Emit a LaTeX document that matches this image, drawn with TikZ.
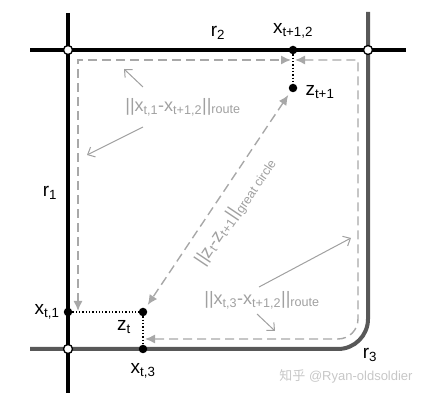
\documentclass[tikz,border=0pt]{standalone}
\usepackage{fontspec}
\setmainfont{Liberation Sans}
\newfontfamily\cjk{Noto Sans CJK SC}
\usetikzlibrary{arrows.meta}
\definecolor{roadgray}{HTML}{585858}
\definecolor{routegray}{HTML}{A8A8A8}
\definecolor{notegray}{HTML}{A0A0A0}
\tikzset{
  pt/.style={circle,fill=black,inner sep=0pt,minimum size=8.5pt},
  cross/.style={circle,draw=black,fill=white,line width=1.3pt,inner sep=0pt,minimum size=9pt},
  lbl/.style={font=\fontsize{19}{21}\selectfont},
  note/.style={font=\fontsize{18}{20}\selectfont,text=notegray},
  route/.style={routegray,line width=1.4pt,dash pattern=on 9pt off 5pt,{Latex[length=10pt,width=9pt]}-{Latex[length=10pt,width=9pt]}},
  pointer/.style={notegray,line width=1pt,-{Straight Barb[length=6pt,width=11pt]}}
}
\begin{document}
\begin{tikzpicture}[x=1pt,y=1pt]
\useasboundingbox (0,0) rectangle (423,406);

\draw [line width=4pt,roadgray] (368,394) -- (368,87) arc[start angle=0,end angle=-90,radius=30] -- (30,57);
\draw [line width=4pt] (68,393) -- (68,13);
\draw [line width=4pt] (30,356) -- (406,356);

\node [cross] (c1) at (68,356) {};
\node [cross] (c2) at (368,356) {};
\node [cross] (c3) at (68,57) {};

\node [pt] (xt12) at (293,356) {};
\node [pt] (zt1) at (293,318) {};
\node [pt] (xt1) at (68,94) {};
\node [pt] (zt) at (143,94) {};
\node [pt] (xt3) at (143,57) {};

\draw [dotted,line width=1.3pt] (xt12) -- (zt1);
\draw [dotted,line width=1.3pt] (xt1) -- (zt) -- (xt3);

\coordinate (a1) at (78,95);
\coordinate (a2) at (291,346);
\coordinate (b1) at (295,346);
\coordinate (b2) at (145,67);
\draw [route] (a1) -- (78,346) -- (a2);
\draw [route] (b1) -- (358,346) -- (358,87) arc[start angle=0,end angle=-90,radius=20] -- (b2);
\draw [route,shorten <=4pt,shorten >=4pt] (zt1) -- node [sloped,below=8pt,note] {||z\textsubscript{t}-z\textsubscript{t+1}||\textsubscript{great circle}} (zt);

\node [note] (n1) at (183,299) {||x\textsubscript{t,1}-x\textsubscript{t+1,2}||\textsubscript{route}};
\draw [pointer] (143,319) -- (124,337);
\draw [pointer] (143,279) -- (87,251);
\node [note] (n2) at (262,106) {||x\textsubscript{t,3}-x\textsubscript{t+1,2}||\textsubscript{route}};
\draw [pointer] (259,119) -- (351,168);
\draw [pointer] (257,92) -- (275,75);

\node [lbl] at (218,373) {r\textsubscript{2}};
\node [lbl] at (293,375) {x\textsubscript{t+1,2}};
\node [lbl,right] at (302,314) {z\textsubscript{t+1}};
\node [lbl] at (50,213) {r\textsubscript{1}};
\node [lbl,left] at (63,94) {x\textsubscript{t,1}};
\node [lbl] at (124,79) {z\textsubscript{t}};
\node [lbl] at (143,35) {x\textsubscript{t,3}};
\node [lbl] at (370,51) {r\textsubscript{3}};
\node [font=\fontsize{13}{15}\selectfont,text=black!22] at (346,30) {{\cjk 知乎} @Ryan-oldsoldier};
\end{tikzpicture}
\end{document}
